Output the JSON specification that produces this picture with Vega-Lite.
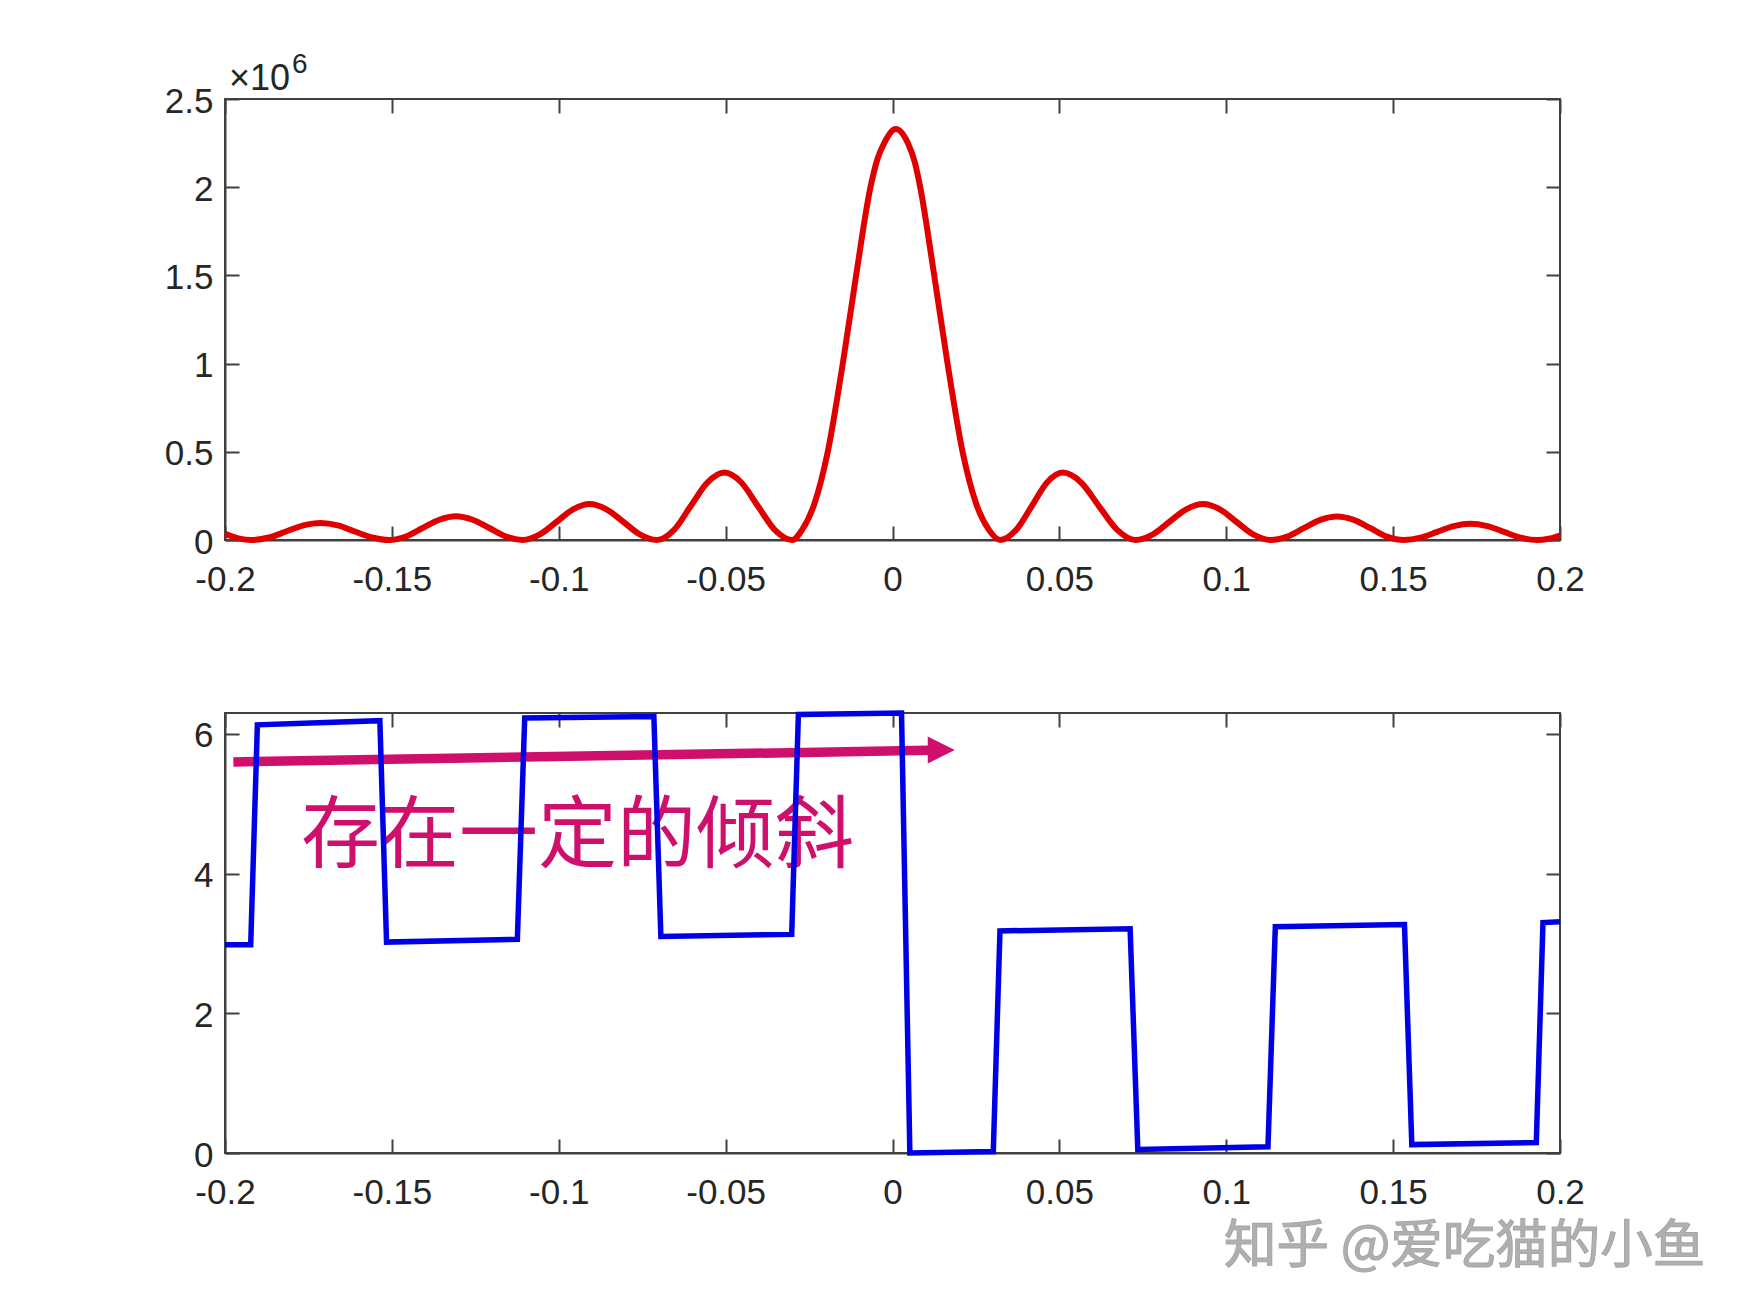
{
  "$schema": "https://vega.github.io/schema/vega-lite/v6.json",
  "background": "white",
  "padding": {"left": 163, "top": 50, "right": 20, "bottom": 20},
  "config": {
    "font": "Liberation Sans",
    "view": {"stroke": "#404040", "strokeWidth": 2},
    "axis": {
      "labelFont": "Liberation Sans", "labelFontSize": 35, "labelColor": "#262626",
      "domainColor": "#404040", "domainWidth": 2, "tickColor": "#404040", "tickWidth": 2,
      "tickSize": -14, "grid": false, "labelFlush": false, "labelOverlap": false, "labelBound": false,
      "zindex": 1, "title": null
    }
  },
  "datasets": {
    "spectrum": [
      {"x": -0.2, "y": 35000}, {"x": -0.196, "y": 9000}, {"x": -0.192, "y": 0},
      {"x": -0.1868, "y": 14000}, {"x": -0.1817, "y": 48000}, {"x": -0.1765, "y": 83000}, {"x": -0.1714, "y": 97000},
      {"x": -0.1662, "y": 83000}, {"x": -0.1611, "y": 48000}, {"x": -0.1559, "y": 14000}, {"x": -0.1508, "y": 0},
      {"x": -0.1458, "y": 20000}, {"x": -0.1408, "y": 68000}, {"x": -0.1358, "y": 115000}, {"x": -0.1308, "y": 135000},
      {"x": -0.1258, "y": 115000}, {"x": -0.1208, "y": 68000}, {"x": -0.1158, "y": 20000}, {"x": -0.1108, "y": 0},
      {"x": -0.1058, "y": 30000}, {"x": -0.1007, "y": 102000}, {"x": -0.0957, "y": 174000}, {"x": -0.0907, "y": 204000},
      {"x": -0.0857, "y": 174000}, {"x": -0.0806, "y": 102000}, {"x": -0.0756, "y": 30000}, {"x": -0.0706, "y": 0},
      {"x": -0.0655, "y": 56000}, {"x": -0.0605, "y": 191000}, {"x": -0.0554, "y": 326000}, {"x": -0.0504, "y": 382000},
      {"x": -0.0453, "y": 326000}, {"x": -0.0403, "y": 191000}, {"x": -0.0352, "y": 56000}, {"x": -0.0301, "y": 0},
      {"x": -0.027, "y": 60000}, {"x": -0.0235, "y": 200000}, {"x": -0.0194, "y": 500000}, {"x": -0.0149, "y": 1000000},
      {"x": -0.0109, "y": 1500000}, {"x": -0.0066, "y": 2000000}, {"x": -0.0045, "y": 2160000}, {"x": -0.0025, "y": 2250000},
      {"x": 0.001, "y": 2330000}, {"x": 0.0046, "y": 2250000}, {"x": 0.0067, "y": 2140000}, {"x": 0.0083, "y": 2000000},
      {"x": 0.0125, "y": 1500000}, {"x": 0.0165, "y": 1000000}, {"x": 0.021, "y": 500000}, {"x": 0.025, "y": 210000},
      {"x": 0.0288, "y": 60000}, {"x": 0.0323, "y": 0},
      {"x": 0.037, "y": 56000}, {"x": 0.0417, "y": 191000}, {"x": 0.0463, "y": 326000}, {"x": 0.051, "y": 382000},
      {"x": 0.0565, "y": 326000}, {"x": 0.0619, "y": 191000}, {"x": 0.0674, "y": 56000}, {"x": 0.0728, "y": 0},
      {"x": 0.0779, "y": 30000}, {"x": 0.0829, "y": 102000}, {"x": 0.088, "y": 174000}, {"x": 0.093, "y": 204000},
      {"x": 0.0981, "y": 174000}, {"x": 0.1031, "y": 102000}, {"x": 0.1082, "y": 30000}, {"x": 0.1132, "y": 0},
      {"x": 0.1182, "y": 19000}, {"x": 0.1232, "y": 67000}, {"x": 0.1282, "y": 114000}, {"x": 0.1332, "y": 133000},
      {"x": 0.1382, "y": 114000}, {"x": 0.1432, "y": 67000}, {"x": 0.1482, "y": 19000}, {"x": 0.1532, "y": 0},
      {"x": 0.1582, "y": 13000}, {"x": 0.1632, "y": 46000}, {"x": 0.1682, "y": 79000}, {"x": 0.1732, "y": 92000},
      {"x": 0.1782, "y": 79000}, {"x": 0.1832, "y": 46000}, {"x": 0.1882, "y": 13000}, {"x": 0.1931, "y": 0},
      {"x": 0.1966, "y": 7000}, {"x": 0.2, "y": 25000}
    ],
    "phase": [
      {"x": -0.2, "y": 2.98}, {"x": -0.1923, "y": 2.98}, {"x": -0.1903, "y": 6.13}, {"x": -0.1536, "y": 6.19},
      {"x": -0.1516, "y": 3.02}, {"x": -0.1124, "y": 3.06}, {"x": -0.1102, "y": 6.23}, {"x": -0.0715, "y": 6.25},
      {"x": -0.0694, "y": 3.10}, {"x": -0.0302, "y": 3.13}, {"x": -0.0282, "y": 6.28}, {"x": 0.0027, "y": 6.30},
      {"x": 0.0052, "y": 0.0}, {"x": 0.0302, "y": 0.02}, {"x": 0.0322, "y": 3.18}, {"x": 0.0712, "y": 3.21},
      {"x": 0.0735, "y": 0.05}, {"x": 0.1125, "y": 0.09}, {"x": 0.1147, "y": 3.24}, {"x": 0.1534, "y": 3.27},
      {"x": 0.1556, "y": 0.12}, {"x": 0.1929, "y": 0.15}, {"x": 0.1949, "y": 3.30}, {"x": 0.2, "y": 3.31}
    ]
  },
  "bounds": "flush",
  "spacing": 173,
  "vconcat": [
    {
      "width": 1335,
      "height": 441,
      "data": {"name": "spectrum"},
      "layer": [
        {
          "mark": {"type": "line", "color": "#e00000", "strokeWidth": 6, "interpolate": "monotone"},
          "encoding": {
            "x": {"field": "x", "type": "quantitative",
                  "scale": {"domain": [-0.2, 0.2], "nice": false, "zero": false},
                  "axis": {"orient": "bottom", "values": [-0.2, -0.15, -0.1, -0.05, 0, 0.05, 0.1, 0.15, 0.2],
                           "labelExpr": "'' + datum.value", "labelPadding": 36}},
            "y": {"field": "y", "type": "quantitative",
                  "scale": {"domain": [0, 2500000], "nice": false},
                  "axis": {"orient": "left", "values": [0, 500000, 1000000, 1500000, 2000000, 2500000],
                           "labelExpr": "'' + datum.value / 1000000", "labelPadding": 26, "labelOffset": 2}}
          }
        },
        {
          "data": {"values": [{}]},
          "mark": {"type": "text", "text": "×10", "font": "Liberation Sans", "fontSize": 36, "color": "#262626",
                   "align": "left", "baseline": "alphabetic", "dx": 4, "dy": -9},
          "encoding": {
            "x": {"datum": -0.2, "type": "quantitative",
                  "axis": {"orient": "top", "labels": false, "domain": false,
                           "values": [-0.2, -0.15, -0.1, -0.05, 0, 0.05, 0.1, 0.15, 0.2]}},
            "y": {"datum": 2500000, "type": "quantitative",
                  "axis": {"orient": "right", "labels": false, "domain": false,
                           "values": [0, 500000, 1000000, 1500000, 2000000, 2500000]}}
          }
        },
        {
          "data": {"values": [{}]},
          "mark": {"type": "text", "text": "6", "font": "Liberation Sans", "fontSize": 28, "color": "#262626",
                   "align": "left", "baseline": "alphabetic", "dx": 67, "dy": -26},
          "encoding": {
            "x": {"datum": -0.2, "type": "quantitative", "axis": null},
            "y": {"datum": 2500000, "type": "quantitative", "axis": null}
          }
        }
      ],
      "resolve": {"axis": {"x": "independent", "y": "independent"}}
    },
    {
      "width": 1335,
      "height": 440,
      "layer": [
        {
          "data": {"values": [{}]},
          "mark": {"type": "rule", "color": "#cf0f6c", "strokeWidth": 9.5, "strokeCap": "butt"},
          "encoding": {
            "x": {"datum": -0.1975, "type": "quantitative",
                  "scale": {"domain": [-0.2, 0.2], "nice": false, "zero": false},
                  "axis": {"orient": "top", "labels": false, "domain": false,
                           "values": [-0.2, -0.15, -0.1, -0.05, 0, 0.05, 0.1, 0.15, 0.2]}},
            "y": {"datum": 5.6, "type": "quantitative",
                  "scale": {"domain": [0, 6.3], "nice": false},
                  "axis": {"orient": "right", "labels": false, "domain": false, "values": [0, 2, 4, 6]}},
            "x2": {"datum": 0.0108},
            "y2": {"datum": 5.765}
          }
        },
        {
          "data": {"values": [{}]},
          "mark": {"type": "point", "shape": "M-1,-1L1,0L-1,1Z", "filled": true, "color": "#cf0f6c",
                   "size": 729, "opacity": 1, "strokeWidth": 0},
          "encoding": {
            "x": {"datum": 0.0146, "type": "quantitative", "axis": null},
            "y": {"datum": 5.77, "type": "quantitative", "axis": null}
          }
        },
        {
          "data": {"values": [{}]},
          "mark": {"type": "text", "text": "存在一定的倾斜", "font": "Noto Sans CJK SC", "fontSize": 79,
                   "color": "#cf0f6c", "align": "left", "baseline": "alphabetic"},
          "encoding": {
            "x": {"datum": -0.1772, "type": "quantitative", "axis": null},
            "y": {"datum": 4.17, "type": "quantitative", "axis": null}
          }
        },
        {
          "data": {"values": [{}]},
          "mark": {"type": "text", "text": "知乎 @爱吃猫的小鱼", "font": "Noto Sans CJK SC", "fontSize": 52.5,
                   "color": "#b0b0b0", "stroke": "#a8a8a8", "strokeWidth": 1.2,
                   "align": "left", "baseline": "alphabetic"},
          "encoding": {
            "x": {"datum": 0.0993, "type": "quantitative", "axis": null},
            "y": {"datum": -1.58, "type": "quantitative", "axis": null}
          }
        },
        {
          "data": {"name": "phase"},
          "mark": {"type": "line", "color": "#0000e6", "strokeWidth": 5.5},
          "encoding": {
            "x": {"field": "x", "type": "quantitative",
                  "axis": {"orient": "bottom", "values": [-0.2, -0.15, -0.1, -0.05, 0, 0.05, 0.1, 0.15, 0.2],
                           "labelExpr": "'' + datum.value", "labelPadding": 36}},
            "y": {"field": "y", "type": "quantitative",
                  "axis": {"orient": "left", "values": [0, 2, 4, 6],
                           "labelExpr": "'' + datum.value", "labelPadding": 26, "labelOffset": 2}}
          }
        }
      ],
      "resolve": {"axis": {"x": "independent", "y": "independent"}}
    }
  ]
}
